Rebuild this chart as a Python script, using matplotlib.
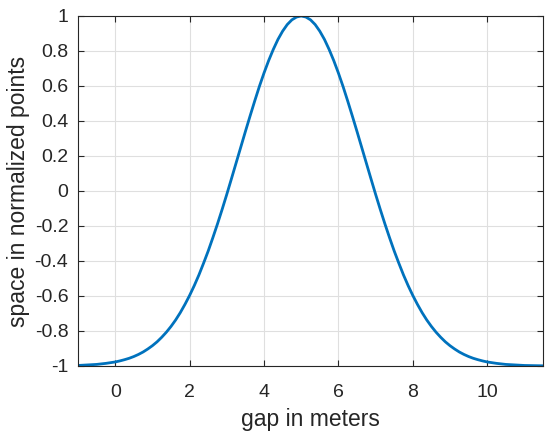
import matplotlib
matplotlib.use('Agg')
import matplotlib.pyplot as plt

plt.rcParams['font.family'] = ['Liberation Sans', 'DejaVu Sans']

# values
gap = [-1.0, -0.75, -0.5, -0.25, 0.0, 0.125, 0.25, 0.375, 0.5, 0.625, 0.75,
       0.875, 1.0, 1.125, 1.25, 1.375, 1.5, 1.625, 1.75, 1.875, 2.0, 2.125,
       2.25, 2.375, 2.5, 2.625, 2.75, 2.875, 3.0, 3.125, 3.25, 3.375, 3.5,
       3.625, 3.75, 3.875, 4.0, 4.125, 4.25, 4.375, 4.5, 4.625, 4.75, 4.875,
       5.0, 5.125, 5.25, 5.375, 5.5, 5.625, 5.75, 5.875, 6.0, 6.125, 6.25,
       6.375, 6.5, 6.625, 6.75, 6.875, 7.0, 7.125, 7.25, 7.375, 7.5, 7.625,
       7.75, 7.875, 8.0, 8.125, 8.25, 8.375, 8.5, 8.625, 8.75, 8.875, 9.0,
       9.125, 9.25, 9.375, 9.5, 9.625, 9.75, 9.875, 10.0, 10.25, 10.5, 10.75,
       11.0, 11.25, 11.5]
space = [-0.997, -0.994, -0.991, -0.985, -0.977, -0.971, -0.964, -0.956,
         -0.946, -0.934, -0.920, -0.903, -0.884, -0.862, -0.836, -0.807,
         -0.774, -0.737, -0.695, -0.648, -0.597, -0.541, -0.480, -0.413,
         -0.343, -0.267, -0.188, -0.105, -0.019, 0.070, 0.160, 0.250, 0.340,
         0.428, 0.514, 0.597, 0.674, 0.745, 0.809, 0.866, 0.913, 0.951,
         0.978, 0.994, 1.000, 0.994, 0.978, 0.951, 0.913, 0.866, 0.809,
         0.745, 0.674, 0.597, 0.514, 0.428, 0.340, 0.250, 0.160, 0.070,
         -0.019, -0.105, -0.188, -0.267, -0.343, -0.413, -0.480, -0.541,
         -0.597, -0.648, -0.695, -0.737, -0.774, -0.807, -0.836, -0.862,
         -0.884, -0.903, -0.920, -0.934, -0.946, -0.956, -0.964, -0.971,
         -0.977, -0.985, -0.991, -0.994, -0.997, -0.998, -0.999]

xticks = [0, 2, 4, 6, 8, 10]
yticks = [-1, -0.8, -0.6, -0.4, -0.2, 0, 0.2, 0.4, 0.6, 0.8, 1]
ytick_labels = ['-1', '-0.8', '-0.6', '-0.4', '-0.2', '0', '0.2', '0.4', '0.6', '0.8', '1']

fig = plt.figure(figsize=(5.5, 4.4), dpi=100)
ax = fig.add_axes([0.1418, 0.1682, 0.8455, 0.7955])

ax.plot(gap, space, color='#0072BD', lw=2.0, solid_capstyle='round',
        solid_joinstyle='round')

ax.set_xlim(-1, 11.5)
ax.set_ylim(-1, 1)
ax.set_xticks(xticks)
ax.set_yticks(yticks)
ax.set_yticklabels(ytick_labels)

ax.grid(True, color='#DFDFDF', lw=0.8)
ax.set_axisbelow(True)
ax.tick_params(direction='in', top=True, right=True, length=4, width=0.8,
               colors='#262626', labelsize=14)
ax.tick_params(axis='x', pad=13)
ax.tick_params(axis='y', pad=7)
for s in ax.spines.values():
    s.set_color('#262626')
    s.set_linewidth(0.8)

ax.set_xlabel('gap in meters', fontsize=16.5, color='#262626', labelpad=5)
ax.set_ylabel('space in normalized points', fontsize=16.5, color='#262626', labelpad=3)

fig.savefig('out.png', dpi=100)
